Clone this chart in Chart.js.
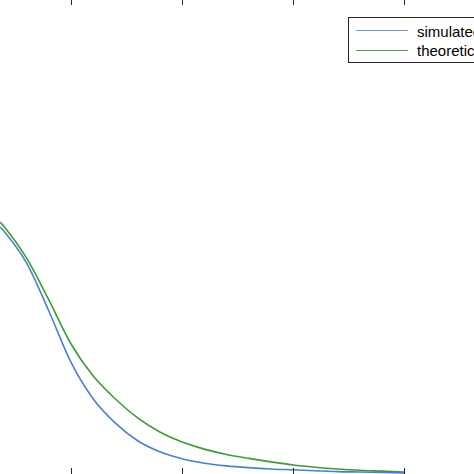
<!DOCTYPE html>
<html>
<head>
<meta charset="utf-8">
<script src="https://cdn.jsdelivr.net/npm/chart.js@4"></script>
<style>
  html, body { margin:0; padding:0; width:474px; height:474px; overflow:hidden; background:#fff; }
  #wrap { position:absolute; left:0; top:0; width:474px; height:474px; }
  #legend { position:absolute; left:348px; top:17px; width:220px; height:44px; border:1px solid #262626; background:#fff;
            font-family:"Liberation Sans", Arial, sans-serif; font-size:15px; line-height:17px; color:#000; }
  .sw { position:absolute; left:7px; width:52px; height:0; border-top:1.3px solid; }
  .lab { position:absolute; left:68px; white-space:nowrap; }
</style>
</head>
<body>
<div id="wrap"><canvas id="c" width="474" height="474"></canvas></div>
<div id="legend">
  <div class="sw" id="sw0" style="top:11.5px"></div><div class="lab" id="lab0" style="top:5.4px"></div>
  <div class="sw" id="sw1" style="top:31.5px"></div><div class="lab" id="lab1" style="top:24.1px"></div>
</div>
<script>
const xValues = [-3.2, -3, -2, -1, 0, 1, 2, 3, 4, 5, 6, 7, 8, 9, 10, 11, 12, 13, 14, 15];
const simulated = [0.566, 0.555, 0.484, 0.375, 0.258, 0.175, 0.120, 0.080, 0.055, 0.039, 0.029, 0.023, 0.019, 0.016, 0.014, 0.012, 0.010, 0.009, 0.008, 0.007];
const theoretical = [0.577, 0.566, 0.495, 0.400, 0.300, 0.227, 0.175, 0.132, 0.100, 0.077, 0.061, 0.049, 0.040, 0.032, 0.025, 0.020, 0.016, 0.013, 0.011, 0.009];
const xTicks = [0, 5, 10, 15];
const seriesNames = ["simulated", "theoretical"];
const seriesColors = ["#4682d0", "#3c9c34"];

document.getElementById('lab0').textContent = seriesNames[0];
document.getElementById('lab1').textContent = seriesNames[1];
document.getElementById('sw0').style.borderColor = "#6f9bd0";
document.getElementById('sw1').style.borderColor = "#4aa040";

const tickPlugin = {
  id: 'inwardTicks',
  afterDatasetsDraw(chart) {
    const ctx = chart.ctx, xs = chart.scales.x, a = chart.chartArea;
    ctx.save();
    ctx.strokeStyle = '#262626';
    ctx.lineWidth = 1;
    xTicks.forEach(v => {
      const px = Math.round(xs.getPixelForValue(v)) + 0.5;
      ctx.beginPath();
      ctx.moveTo(px, a.top); ctx.lineTo(px, a.top + 5);
      ctx.moveTo(px, a.bottom - 6); ctx.lineTo(px, a.bottom);
      ctx.stroke();
    });
    ctx.restore();
  }
};

new Chart(document.getElementById('c'), {
  type: 'line',
  data: {
    datasets: [
      { label: seriesNames[0], data: xValues.map((x, i) => ({x, y: simulated[i]})), borderColor: seriesColors[0], borderWidth: 1.6, pointRadius: 0, cubicInterpolationMode: 'monotone', fill: false },
      { label: seriesNames[1], data: xValues.map((x, i) => ({x, y: theoretical[i]})), borderColor: seriesColors[1], borderWidth: 1.6, pointRadius: 0, cubicInterpolationMode: 'monotone', fill: false }
    ]
  },
  options: {
    responsive: false,
    animation: false,
    layout: { padding: 0 },
    plugins: { legend: { display: false }, tooltip: { enabled: false } },
    scales: {
      x: { type: 'linear', min: -3.2, max: 18.15, display: false },
      y: { type: 'linear', min: 0.0045, max: 1.0818, display: false }
    }
  },
  plugins: [tickPlugin]
});
</script>
</body>
</html>
